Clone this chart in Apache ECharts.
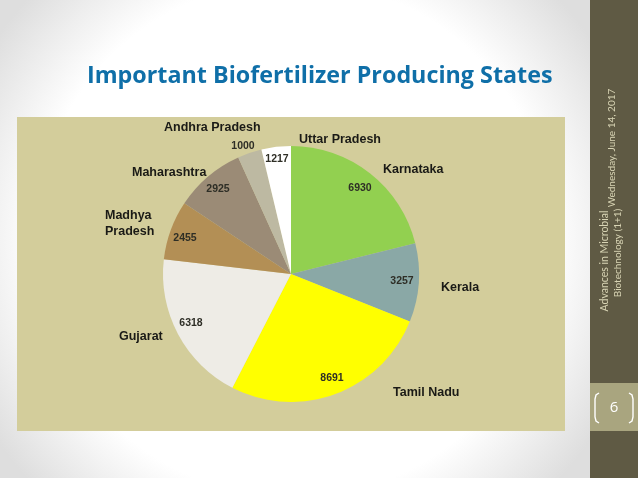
<!DOCTYPE html>
<html>
<head>
<meta charset="utf-8">
<style>html,body{margin:0;padding:0;background:#fff}#chart{width:638px;height:478px}</style>
<script src="https://cdn.jsdelivr.net/npm/echarts@6/dist/echarts.min.js"></script>
</head>
<body>
<div id="chart"></div>
<script>
var states = ['Karnataka', 'Kerala', 'Tamil Nadu', 'Gujarat', 'Madhya\nPradesh', 'Maharashtra', 'Andhra Pradesh', 'Uttar Pradesh'];
var production = [6930, 3257, 8691, 6318, 2455, 2925, 1000, 1217];
var sliceColors = ['#92d050', '#8aa8a6', '#ffff00', '#eeece6', '#b38f55', '#9b8b76', '#bdb9a2', '#ffffff'];

// label anchors in page pixels, same order as states
var namePos = [[383, 170], [441, 288], [393, 393], [119, 337], [105, 224], [132, 173], [164, 128], [299, 140]];
var valuePos = [[360, 188], [402, 281], [332, 378], [191, 323], [185, 238], [218, 189], [243, 146], [277, 159]];

var font = 'Liberation Sans';
var chart = echarts.init(document.getElementById('chart'));

function pieData(draw) {
  return production.map(function (v, i) {
    return { value: v, name: states[i], itemStyle: { color: draw ? sliceColors[i] : 'transparent' } };
  });
}

function pieSeries(formatter, style, pos, draw, align) {
  return {
    type: 'pie',
    center: [291, 274],
    radius: [0, 128],
    startAngle: 90,
    clockwise: true,
    silent: true,
    animation: false,
    data: pieData(draw),
    labelLine: { show: false },
    label: Object.assign({ show: true, position: 'inside', formatter: formatter, fontFamily: font, fontWeight: 'bold' }, style),
    labelLayout: function (params) {
      var p = pos[params.dataIndex];
      return { x: p[0], y: p[1], align: align, verticalAlign: 'middle' };
    }
  };
}

function bracket(pts) {
  return { type: 'polyline', shape: { points: pts }, style: { fill: 'none', stroke: '#ffffff', lineWidth: 1.4 } };
}

chart.setOption({
  backgroundColor: {
    type: 'radial', x: 0.46, y: 0.5, r: 0.75,
    colorStops: [{ offset: 0, color: '#ffffff' }, { offset: 0.72, color: '#ffffff' }, { offset: 1, color: '#dedede' }]
  },
  graphic: [
    { type: 'rect', z: -1, shape: { x: 17, y: 117, width: 548, height: 314 }, style: { fill: '#d3cd9b' } },
    { type: 'rect', z: -1, shape: { x: 590, y: 0, width: 48, height: 478 }, style: { fill: '#5f5a44' } },
    { type: 'rect', z: -1, shape: { x: 590, y: 383, width: 48, height: 48 }, style: { fill: '#a9a57f' } },
    { type: 'text', x: 87, y: 76, style: { text: 'Important Biofertilizer Producing States', fill: '#0f6fa8', font: 'bold 23.3px "Open Sans"', textVerticalAlign: 'middle' } },
    { type: 'text', x: 612, y: 148, rotation: Math.PI / 2, style: { text: 'Wednesday, June 14, 2017', fill: '#d8d4b4', font: '10px Lato', textAlign: 'center', textVerticalAlign: 'middle' } },
    { type: 'text', x: 605, y: 261, rotation: Math.PI / 2, style: { text: 'Advances in Microbial', fill: '#d8d4b4', font: '10.5px Lato', textAlign: 'center', textVerticalAlign: 'middle' } },
    { type: 'text', x: 618, y: 253, rotation: Math.PI / 2, style: { text: 'Biotechnology (1+1)', fill: '#d8d4b4', font: '10px Lato', textAlign: 'center', textVerticalAlign: 'middle' } },
    { type: 'text', x: 614, y: 408, style: { text: '6', fill: '#ffffff', font: '15px "Open Sans"', textAlign: 'center', textVerticalAlign: 'middle' } },
    bracket([[599, 393], [596, 395], [595, 399], [595, 417], [596, 421], [599, 423]]),
    bracket([[629, 393], [632, 395], [633, 399], [633, 417], [632, 421], [629, 423]])
  ],
  series: [
    pieSeries('{c}', { fontSize: 10.5, color: '#2e2e26' }, valuePos, true, 'center'),
    pieSeries('{b}', { fontSize: 12.5, color: '#1a1a16', lineHeight: 16, align: 'left' }, namePos, false, 'left')
  ]
});
</script>
</body>
</html>
